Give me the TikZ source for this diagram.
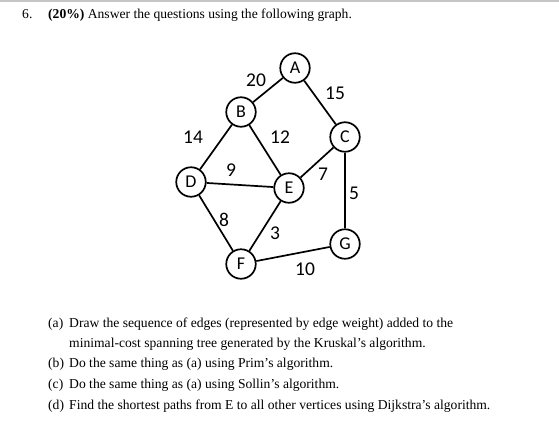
\documentclass[tikz,border=0pt]{standalone}
\usepackage{fontspec}
\setmainfont{Liberation Serif}
\newfontfamily\graphfont{Carlito}
\begin{document}
\begin{tikzpicture}[x=1pt,y=-1pt,
  vtx/.style={circle,draw,line width=1.7pt,minimum size=29.5pt,inner sep=0pt,font=\graphfont\fontsize{18}{18}\selectfont},
  edge/.style={line width=1.7pt},
  wlab/.style={font=\graphfont\fontsize{19.5}{19.5}\selectfont,inner sep=0pt},
  txt/.style={anchor=base west,inner sep=0pt,font=\fontsize{13.6}{15}\selectfont}]
\useasboundingbox (0,0) rectangle (559,442);
\fill[white] (0,0) rectangle (559,442);
\coordinate (tl) at (0,1);
\coordinate (tr) at (559,1);
\draw[gray!45,line width=1.5pt] (tl) -- (tr);
% title
\node[txt] (num) at (22,18) {6.};
\node[txt] (title) at (48,18) {\textbf{(20\%)} Answer the questions using the following graph.};
% vertices
\node[vtx] (A) at (295,68) {A};
\node[vtx] (B) at (241,112) {B};
\node[vtx] (C) at (345,137) {C};
\node[vtx] (D) at (191,182) {D};
\node[vtx] (E) at (289,188) {E};
\node[vtx] (F) at (241,264) {F};
\node[vtx] (G) at (345,244) {G};
% edges
\draw[edge] (A) -- (B);
\draw[edge] (A) -- (C);
\draw[edge] (B) -- (D);
\draw[edge] (B) -- (E);
\draw[edge] (C) -- (E);
\draw[edge] (C) -- (G);
\draw[edge] (D) -- (E);
\draw[edge] (D) -- (F);
\draw[edge] (E) -- (F);
\draw[edge] (F) -- (G);
% weights
\node[wlab] (w20) at (256,80) {20};
\node[wlab] (w15) at (335,93) {15};
\node[wlab] (w14) at (193,137) {14};
\node[wlab] (w12) at (280,137) {12};
\node[wlab] (w9) at (231,170) {9};
\node[wlab] (w7) at (323,174) {7};
\node[wlab] (w5) at (354,193) {5};
\node[wlab] (w8) at (224,220) {8};
\node[wlab] (w3) at (275,233) {3};
\node[wlab] (w10) at (305,269) {10};
% questions
\node[txt] (qa) at (48,327) {(a)};
\node[txt] (qat) at (69,327) {Draw the sequence of edges (represented by edge weight) added to the};
\node[txt] (qa2) at (69,347) {minimal-cost spanning tree generated by the Kruskal's algorithm.};
\node[txt] (qb) at (48,367) {(b)};
\node[txt] (qbt) at (69,367) {Do the same thing as (a) using Prim's algorithm.};
\node[txt] (qc) at (48,388) {(c)};
\node[txt] (qct) at (69,388) {Do the same thing as (a) using Sollin's algorithm.};
\node[txt] (qd) at (48,409) {(d)};
\node[txt] (qdt) at (69,409) {Find the shortest paths from E to all other vertices using Dijkstra's algorithm.};
\end{tikzpicture}
\end{document}
